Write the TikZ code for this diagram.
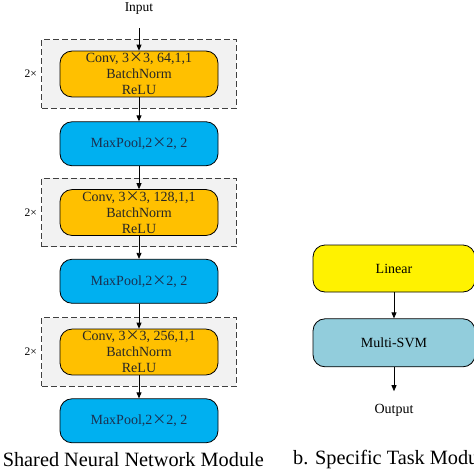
\documentclass[tikz,border=0pt]{standalone}
\usepackage{fontspec}
\setmainfont{Liberation Serif}
\newfontfamily\cjk{Noto Sans CJK SC}
\usepackage{tikz}
\usetikzlibrary{arrows.meta,positioning,fit,backgrounds}
\definecolor{convorange}{HTML}{FFC000}
\definecolor{poolblue}{HTML}{00B0F0}
\definecolor{pooltext}{HTML}{1B3050}
\definecolor{svmblue}{HTML}{92CDDC}
\definecolor{repgray}{HTML}{F2F2F2}
\newcommand{\by}{{\cjk ×}}

\begin{document}
\begin{tikzpicture}[x=1pt,y=1pt,
  every node/.style={font=\fontsize{14}{16}\selectfont,align=center,inner sep=2pt},
  block/.style={draw,rounded corners=12pt,line width=0.8pt,minimum width=158pt,minimum height=44pt},
  convbox/.style={block,fill=convorange,text=black!85},
  poolbox/.style={block,fill=poolblue,text=pooltext},
  repbox/.style={draw=black!75,dash pattern=on 6pt off 3pt,line width=1pt,fill=repgray,
    inner xsep=18pt,inner ysep=11pt},
  replabel/.style={font=\fontsize{11.5}{13}\selectfont,left=2pt of #1},
  flow/.style={-{Triangle[length=6pt,width=5pt]},line width=0.8pt},
  caption/.style={font=\fontsize{20.3}{24}\selectfont},
  node distance=23pt]
\useasboundingbox (0,0) rectangle (474,-474);
\clip (0,0) rectangle (474,-474);
% shared module
\node[font=\fontsize{13.5}{16}\selectfont] (in) at (139,-9) {Input};
\node[convbox] (conv1) at (139,-74) {Conv, 3\by3, 64,1,1\\BatchNorm\\ReLU};
\node[poolbox,below=24pt of conv1] (pool1) {MaxPool,2\by2, 2};
\node[convbox,below=of pool1] (conv2) {Conv, 3\by3, 128,1,1\\BatchNorm\\ReLU};
\node[poolbox,below=of conv2] (pool2) {MaxPool,2\by2, 2};
\node[convbox,below=25pt of pool2] (conv3) {Conv, 3\by3, 256,1,1\\BatchNorm\\ReLU};
\node[poolbox,below=of conv3] (pool3) {MaxPool,2\by2, 2};
\begin{scope}[on background layer]
\node[repbox,fit=(conv1)] (rep1) {};
\node[repbox,fit=(conv2)] (rep2) {};
\node[repbox,fit=(conv3)] (rep3) {};
\end{scope}
\node[replabel=rep1] (n1) {2×};
\node[replabel=rep2] (n2) {2×};
\node[replabel=rep3] (n3) {2×};
\draw[flow,shorten <=11pt] (in) -- (conv1);
\draw[flow] (conv1) -- (pool1);
\draw[flow] (pool1) -- (conv2);
\draw[flow] (conv2) -- (pool2);
\draw[flow] (pool2) -- (conv3);
\draw[flow] (conv3) -- (pool3);
% task module
\node[block,fill=yellow,minimum width=162pt,minimum height=47pt] (lin) at (394,-268.5) {Linear};
\node[block,fill=svmblue,minimum width=162pt,minimum height=48pt,below=26pt of lin] (svm) {Multi-SVM};
\node[below=35pt of svm] (out) {Output};
\draw[flow] (lin) -- (svm);
\draw[flow,shorten >=11pt] (svm) -- (out);
% captions
\node[caption,anchor=east] (capa) at (266,-460) {a. Shared Neural Network Module};
\node[caption,anchor=west] (capb) at (291,-460) {b. Specific Task Module};
\end{tikzpicture}
\end{document}
